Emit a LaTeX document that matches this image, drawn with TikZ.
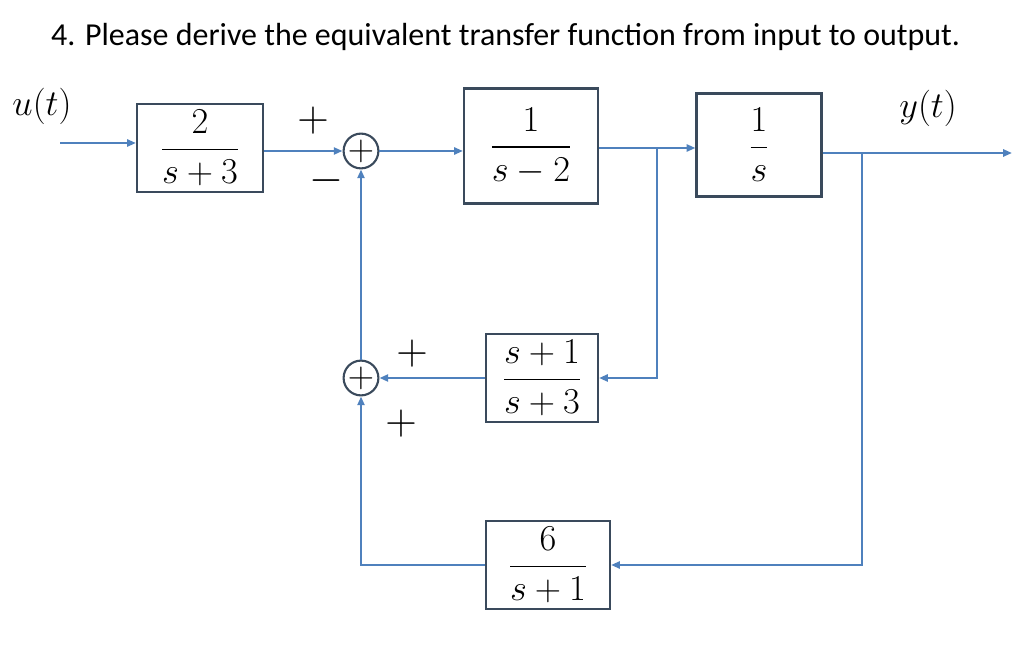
\documentclass[tikz,border=0pt]{standalone}
\usepackage{amsmath}
\usepackage{fontspec}
\setmainfont{Liberation Serif}
\newfontfamily\titlefont{Carlito}
\usetikzlibrary{arrows.meta}
\definecolor{ln}{HTML}{4F81BD}
\definecolor{bx}{HTML}{3A4A5C}
\begin{document}
\begin{tikzpicture}[x=0.02cm,y=-0.02cm,
 blk/.style={draw=bx,line width=1.2pt},
 sig/.style={draw=ln,line width=1.6pt},
 arr/.style={sig,-{Triangle[length=5pt,width=4pt]}},
 sumc/.style={draw=bx,line width=1.2pt,circle,minimum size=0.56cm,inner sep=0pt,font=\fontsize{20}{20}\selectfont},
 fr/.style={font=\fontsize{20}{22}\selectfont},
 sg/.style={font=\fontsize{24}{24}\selectfont}]
\useasboundingbox (0,0) rectangle (1024,651);
\node[anchor=west,font=\titlefont\fontsize{18.2}{22}\selectfont] (title) at (45,37) {4. Please derive the equivalent transfer function from input to output.};
\node[fr] (u) at (42,106) {$u(t)$};
\node[fr] (y) at (928,108) {$y(t)$};
\node[blk,minimum width=2.52cm,minimum height=1.74cm,fr] (b1) at (200,148) {$\dfrac{2}{s+3}$};
\node[blk,minimum width=2.68cm,minimum height=2.3cm,fr] (b2) at (531,146) {$\dfrac{1}{s-2}$};
\node[blk,minimum width=2.5cm,minimum height=2.06cm,fr] (b3) at (759,145) {$\dfrac{1}{s}$};
\node[blk,minimum width=2.24cm,minimum height=1.64cm,fr] (b4) at (542,378) {$\dfrac{s+1}{s+3}$};
\node[blk,minimum width=2.48cm,minimum height=1.72cm,fr] (b5) at (548,565) {$\dfrac{6}{s+1}$};
\node[sumc] (s1) at (361,151) {$+$};
\node[sumc] (s2) at (361,378) {$+$};
\node[sg] (p1) at (313,121) {$+$};
\node[sg] (m1) at (326,181) {$-$};
\node[sg] (p2) at (412,354) {$+$};
\node[sg] (p3) at (401,424) {$+$};
\coordinate (in) at (60,143);
\coordinate (out) at (1012,153);
\coordinate (br1) at (657,148);
\coordinate (br2) at (862,153);
\draw[arr] (in) -- (b1.west |- in);
\draw[arr] (b1.east |- s1) -- (s1.west);
\draw[arr] (s1.east) -- (b2.west |- s1);
\draw[arr] (b2.east |- br1) -- (b3.west |- br1);
\draw[arr] (b3.east |- br2) -- (out);
\draw[arr] (br1) |- (b4.east);
\draw[arr] (br2) |- (b5.east);
\draw[arr] (b4.west) -- (s2.east);
\draw[arr] (b5.west) -| (s2.south);
\draw[arr] (s2.north) -- (s1.south);
\end{tikzpicture}
\end{document}
